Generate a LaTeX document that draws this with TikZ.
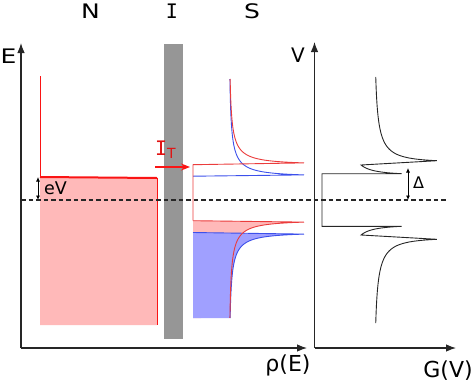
\documentclass[tikz,border=0pt]{standalone}
\usepackage{fontspec}
\setmainfont{DejaVu Sans}
\newfontfamily\monof{DejaVu Sans Mono}
\usetikzlibrary{arrows.meta}
\definecolor{nred}{RGB}{250,20,20}
\definecolor{sred}{RGB}{235,60,60}
\definecolor{sblue}{RGB}{60,80,235}
\definecolor{pinkfill}{RGB}{255,185,185}
\definecolor{bluefill}{RGB}{160,160,255}
\definecolor{bargray}{RGB}{150,150,150}
\begin{document}
\begin{tikzpicture}[x=1pt,y=-1pt,
  declare function={
    rhoG(\e)=1/sqrt(1-(31/\e)^2);
    gA(\v)=(rhoG(\v-6.5)+rhoG(\v+6.5))/2;
    rhoS(\e)=1/sqrt(1-(28/\e)^2);
  },
  axis/.style={line width=1.1pt,draw=black!85,-{Latex[length=10pt,width=7.5pt]}},
  dbl/.style={line width=0.8pt,{Latex[length=4.5pt,width=4pt]}-{Latex[length=4.5pt,width=4pt]}},
  lbl/.style={font=\fontsize{20}{20}\selectfont},
  wlbl/.style={font=\fontsize{20}{20}\selectfont,xscale=1.25},
  albl/.style={font=\fontsize{22}{22}\selectfont},
  scurve/.style={line width=0.9pt},
]
\useasboundingbox (0,0) rectangle (474,383);
% titles
\node[wlbl] (tN) at (90.5,11.5) {N};
\node[lbl] (tI) at (172,11.5) {\monof I};
\node[wlbl] (tS) at (252,11.5) {S};
% axes
\coordinate (o1) at (21,348);
\coordinate (e1) at (21,43);
\coordinate (r1) at (307,348);
\draw[axis] (o1) -- (e1);
\draw[axis] (o1) -- (r1);
\node[wlbl,anchor=west,inner sep=0pt] (lE) at (0.3,56) {E};
\node[albl] (lrho) at (288,365) {ρ(E)};
\coordinate (o2) at (314.5,348);
\coordinate (v2) at (314.5,42);
\coordinate (g2) at (456,348);
\draw[axis] (o2) -- (v2);
\draw[axis] (o2) -- (g2);
\node[lbl] (lV) at (298,55) {V};
\node[albl] (lG) at (448,371) {G(V)};
% barrier
\fill[bargray] (164,44) rectangle (183,339);
% N side
\fill[pinkfill] (40,177) -- (157,178) -- (157,325) -- (40,325) -- cycle;
\draw[nred,line width=0.9pt] (40,76) -- (40,177);
\draw[nred,line width=2pt] (40,177) -- (157,178);
\draw[nred,line width=0.9pt] (157,178) -- (157,325);
\coordinate (eVa) at (38,177);
\coordinate (eVb) at (38,200);
\draw[dbl] (eVa) -- (eVb);
\node[font=\fontsize{17.5}{17.5}\selectfont,anchor=west,inner sep=0pt] (leV) at (44,188.5) {eV};
% tunnelling current
\coordinate (it1) at (155,167);
\coordinate (it2) at (190,167);
\draw[nred,line width=1.2pt,-{Stealth[length=9pt,width=7pt]}] (it1) -- (it2);
\node[lbl,text=nred!90!black,anchor=west,inner sep=0pt] (lIT) at (155,150) {\monof I\textsubscript{\rmfamily T}};
% S side: filled parts
\fill[pinkfill] (193,220.7) -- plot[domain=1.265:9.874,samples=70] ({193+36*rhoS(28+\x*\x)},{192.5+28+\x*\x}) -- (193,318) -- cycle;
\fill[bluefill] (193,232.5) -- plot[domain=1.265:9.247,samples=70] ({193+36*rhoS(28+\x*\x)},{204.5+28+\x*\x}) -- (193,318) -- cycle;
% blue lines
\draw[sblue,scurve] (193,176.2) -- plot[domain=1.265:9.874,samples=70] ({193+36*rhoS(28+\x*\x)},{204.5-28-\x*\x});
\draw[sblue,scurve] (193,232.5) -- plot[domain=1.265:9.247,samples=70] ({193+36*rhoS(28+\x*\x)},{204.5+28+\x*\x});
% red lines
\draw[sred,scurve] (193,220.7) -- (193,164.7) -- plot[domain=1.265:9.247,samples=70] ({193+36*rhoS(28+\x*\x)},{192.5-28-\x*\x});
\draw[sred,scurve] (193,220.7) -- plot[domain=1.265:9.874,samples=70] ({193+36*rhoS(28+\x*\x)},{192.5+28+\x*\x});
% G(V)
\draw[black!85,line width=0.9pt]
  plot[domain=9.247:1.342,samples=70] ({322+52*gA(37.5+\x*\x)},{200+37.5+\x*\x})
  -- plot[domain=3.24:1.342,samples=30] ({322+26*rhoG(31+\x*\x)},{200+24.5+\x*\x})
  -- (322,226.3) -- (322,173.7)
  -- plot[domain=1.342:3.24,samples=30] ({322+26*rhoG(31+\x*\x)},{200-24.5-\x*\x})
  -- plot[domain=1.342:9.247,samples=70] ({322+52*gA(37.5+\x*\x)},{200-37.5-\x*\x});
\coordinate (da) at (408,168);
\coordinate (db) at (408,200);
\draw[dbl] (da) -- (db);
\node[font=\fontsize{16}{16}\selectfont,anchor=west,inner sep=0pt] (lD) at (413,182.5) {Δ};
% Fermi level
\coordinate (f1) at (21,200);
\coordinate (f2) at (446,200);
\draw[line width=1.2pt,dash pattern=on 4.5pt off 3pt,black!85] (f1) -- (f2);
\end{tikzpicture}
\end{document}
